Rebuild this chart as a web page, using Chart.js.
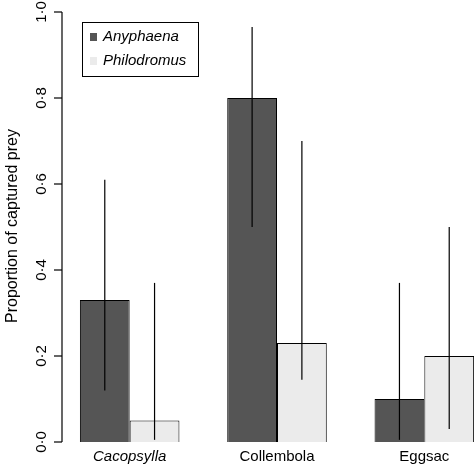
<!DOCTYPE html>
<html><head><meta charset="utf-8">
<script src="https://cdn.jsdelivr.net/npm/chart.js@4"></script>
<style>body{margin:0;overflow:hidden;background:#fff}#wrap{width:520px;height:467px}</style>
</head><body><div id="wrap"><canvas id="c"></canvas></div>
<script>
//  data
const categories = ["Cacopsylla", "Collembola", "Eggsac"];
const italicCats = [true, false, false];
const anyphaena = [0.33, 0.80, 0.10];
const anyLow = [0.12, 0.50, 0.005];
const anyHigh = [0.61, 0.965, 0.37];
const philodromus = [0.05, 0.23, 0.20];
const phiLow = [0.005, 0.145, 0.03];
const phiHigh = [0.37, 0.70, 0.50];
const yTicks = [0, 0.2, 0.4, 0.6, 0.8, 1.0];
const errs = [[anyLow, anyHigh], [phiLow, phiHigh]];

const fnt = '"Liberation Sans", Arial, sans-serif';

//  Оси, подписи, погрешности и легенда
const extras = {
    id: 'extras',
    afterDatasetsDraw(chart){
        const ctx = chart.ctx, y = chart.scales.y, x = chart.scales.x;
        ctx.save();
        ctx.strokeStyle = '#000'; ctx.lineWidth = 1.2;
        // error bars
        errs.forEach((e, di) => {
            chart.getDatasetMeta(di).data.forEach((bar, i) => {
                ctx.beginPath();
                ctx.moveTo(bar.x, y.getPixelForValue(e[0][i]));
                ctx.lineTo(bar.x, y.getPixelForValue(e[1][i]));
                ctx.stroke();
            });
        });
        // y axis
        const ax = 62;
        ctx.beginPath();
        ctx.moveTo(ax, y.getPixelForValue(0)); ctx.lineTo(ax, y.getPixelForValue(1));
        ctx.stroke();
        ctx.fillStyle = '#000';
        ctx.font = '15px ' + fnt;
        ctx.textAlign = 'center'; ctx.textBaseline = 'middle';
        yTicks.forEach(v => {
            const py = y.getPixelForValue(v);
            ctx.beginPath(); ctx.moveTo(ax, py); ctx.lineTo(ax - 8, py); ctx.stroke();
            ctx.save(); ctx.translate(42, py); ctx.rotate(-Math.PI / 2);
            ctx.fillText(v.toFixed(1).replace('.', '\u00b7'), 0, 0);
            ctx.restore();
        });
        ctx.save(); ctx.translate(13, 226); ctx.rotate(-Math.PI / 2);
        ctx.font = '16px ' + fnt;
        ctx.fillText('Proportion of captured prey', 0, 0);
        ctx.restore();
        // x labels
        categories.forEach((c, i) => {
            ctx.font = (italicCats[i] ? 'italic ' : '') + '15px ' + fnt;
            ctx.fillText(c, x.getPixelForValue(i), 457);
        });
        // legend
        ctx.lineWidth = 1;
        ctx.strokeRect(82.5, 22.5, 116, 54);
        chart.data.datasets.forEach((ds, i) => {
            const ly = 37 + i * 24;
            ctx.fillStyle = ds.backgroundColor;
            ctx.fillRect(90, ly - 4, 7, 8);
            ctx.fillStyle = '#000';
            ctx.font = 'italic 15px ' + fnt;
            ctx.textAlign = 'left';
            ctx.fillText(ds.label, 103, ly);
        });
        ctx.restore();
    }
};

const config = {
    type: 'bar',
    data: {
        labels: categories,
        datasets: [
            { label: 'Anyphaena', data: anyphaena, backgroundColor: '#555555', borderColor: '#000', borderWidth: 1 },
            { label: 'Philodromus', data: philodromus, backgroundColor: '#ebebeb', borderColor: '#000', borderWidth: 1 }
        ]
    },
    options: {
        responsive: true, maintainAspectRatio: false, animation: false,
        layout: { padding: { left: 48, right: 22, top: 12, bottom: 17 } },
        plugins: { legend: { display: false }, tooltip: { enabled: false } },
        datasets: { bar: { categoryPercentage: 100 / 148, barPercentage: 1 } },
        scales: {
            x: { ticks: { display: false }, grid: { display: false }, border: { display: false } },
            y: { min: 0, max: 1, ticks: { display: false }, grid: { display: false }, border: { display: false } }
        }
    },
    plugins: [extras]
};
new Chart(document.getElementById('c'), config);
</script></body></html>
